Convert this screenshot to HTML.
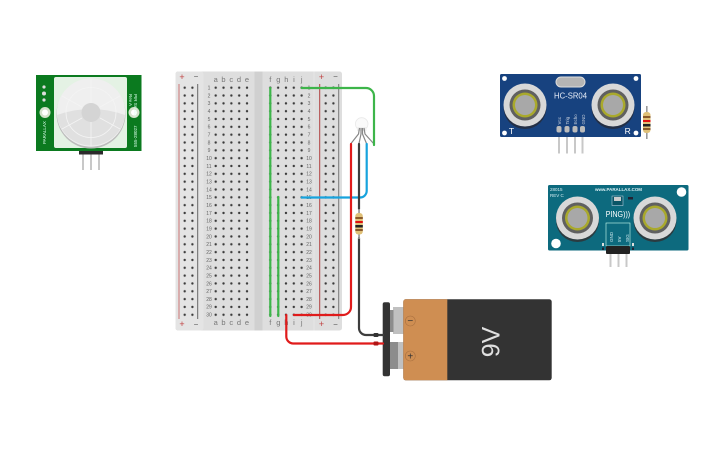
<!DOCTYPE html>
<html><head><meta charset="utf-8"><style>
html,body{margin:0;padding:0;background:#fff}
svg{display:block}
text{font-family:"Liberation Sans",sans-serif}
.n{font-size:5px;fill:#666;text-anchor:middle}
.l{font-size:7.5px;fill:#777;text-anchor:middle}
.w{fill:none;stroke-width:2.2;stroke-linecap:round;stroke-linejoin:round}
</style></head><body>
<svg width="725" height="453" viewBox="0 0 725 453" xmlns="http://www.w3.org/2000/svg">
<defs>
<pattern id="h1" x="180.8" y="83.8" width="7.7" height="7.83" patternUnits="userSpaceOnUse"><circle cx="3.9" cy="3.9" r="1.2" fill="#3a3a3a"/></pattern>
<pattern id="h2" x="211.8" y="83.8" width="7.83" height="7.83" patternUnits="userSpaceOnUse"><circle cx="3.9" cy="3.9" r="1.2" fill="#3a3a3a"/></pattern>
<pattern id="h3" x="266.4" y="83.8" width="7.83" height="7.83" patternUnits="userSpaceOnUse"><circle cx="3.9" cy="3.9" r="1.2" fill="#3a3a3a"/></pattern>
<pattern id="h4" x="321.8" y="83.8" width="7.7" height="7.83" patternUnits="userSpaceOnUse"><circle cx="3.9" cy="3.9" r="1.2" fill="#3a3a3a"/></pattern>
</defs>
<!-- Breadboard -->
<rect x="175.5" y="71.5" width="166.5" height="259" rx="2.5" fill="#dedede"/>
<rect x="175.5" y="71.5" width="28" height="259" rx="2.5" fill="#e4e4e4"/>
<rect x="254.5" y="71.5" width="8" height="259" fill="#d0d0d0"/>
<rect x="313.5" y="71.5" width="1" height="259" fill="#e6e6e6"/>
<line x1="179" y1="84" x2="179" y2="319" stroke="#d28f8f" stroke-width="1.3"/>
<line x1="197.7" y1="84" x2="197.7" y2="319" stroke="#666" stroke-width="1"/>
<line x1="319.7" y1="84" x2="319.7" y2="319" stroke="#b04040" stroke-width="1"/>
<line x1="338.7" y1="84" x2="338.7" y2="319" stroke="#777" stroke-width="1"/>
<rect x="180.8" y="83.8" width="15.4" height="235" fill="url(#h1)"/>
<rect x="211.8" y="83.8" width="39.2" height="235" fill="url(#h2)"/>
<rect x="266.4" y="83.8" width="39.2" height="235" fill="url(#h3)"/>
<rect x="321.8" y="83.8" width="15.4" height="235" fill="url(#h4)"/>
<text x="182" y="80" fill="#c04040" text-anchor="middle" style="font-size:9px">+</text><text x="196" y="79" fill="#555" text-anchor="middle" style="font-size:8px">−</text>
<text x="321.5" y="80" fill="#c04040" text-anchor="middle" style="font-size:9px">+</text><text x="335.5" y="79" fill="#555" text-anchor="middle" style="font-size:8px">−</text>
<text x="182" y="327" fill="#c04040" text-anchor="middle" style="font-size:9px">+</text><text x="196" y="327" fill="#555" text-anchor="middle" style="font-size:8px">−</text>
<text x="321.5" y="327" fill="#c04040" text-anchor="middle" style="font-size:9px">+</text><text x="335.5" y="327" fill="#555" text-anchor="middle" style="font-size:8px">−</text>
<g><text class="l" x="215.7" y="82">a</text><text class="l" x="223.5" y="82">b</text><text class="l" x="231.3" y="82">c</text><text class="l" x="239" y="82">d</text><text class="l" x="247" y="82">e</text>
<text class="l" x="270.3" y="82">f</text><text class="l" x="278.3" y="82">g</text><text class="l" x="286.3" y="82">h</text><text class="l" x="294" y="82">i</text><text class="l" x="301.7" y="82">j</text>
<text class="l" x="215.7" y="325">a</text><text class="l" x="223.5" y="325">b</text><text class="l" x="231.3" y="325">c</text><text class="l" x="239" y="325">d</text><text class="l" x="247" y="325">e</text>
<text class="l" x="270.3" y="325">f</text><text class="l" x="278.3" y="325">g</text><text class="l" x="286.3" y="325">h</text><text class="l" x="294" y="325">i</text><text class="l" x="301.7" y="325">j</text></g>
<g>
<text class="n" x="209" y="89.5">1</text><text class="n" x="209" y="97.3">2</text><text class="n" x="209" y="105.2">3</text><text class="n" x="209" y="113">4</text><text class="n" x="209" y="120.8">5</text><text class="n" x="209" y="128.7">6</text><text class="n" x="209" y="136.5">7</text><text class="n" x="209" y="144.3">8</text><text class="n" x="209" y="152.1">9</text><text class="n" x="209" y="160">10</text><text class="n" x="209" y="167.8">11</text><text class="n" x="209" y="175.6">12</text><text class="n" x="209" y="183.5">13</text><text class="n" x="209" y="191.3">14</text><text class="n" x="209" y="199.1">15</text><text class="n" x="209" y="207">16</text><text class="n" x="209" y="214.8">17</text><text class="n" x="209" y="222.6">18</text><text class="n" x="209" y="230.4">19</text><text class="n" x="209" y="238.3">20</text><text class="n" x="209" y="246.1">21</text><text class="n" x="209" y="253.9">22</text><text class="n" x="209" y="261.8">23</text><text class="n" x="209" y="269.6">24</text><text class="n" x="209" y="277.4">25</text><text class="n" x="209" y="285.3">26</text><text class="n" x="209" y="293.1">27</text><text class="n" x="209" y="300.9">28</text><text class="n" x="209" y="308.7">29</text><text class="n" x="209" y="316.6">30</text>
<text class="n" x="309" y="89.5">1</text><text class="n" x="309" y="97.3">2</text><text class="n" x="309" y="105.2">3</text><text class="n" x="309" y="113">4</text><text class="n" x="309" y="120.8">5</text><text class="n" x="309" y="128.7">6</text><text class="n" x="309" y="136.5">7</text><text class="n" x="309" y="144.3">8</text><text class="n" x="309" y="152.1">9</text><text class="n" x="309" y="160">10</text><text class="n" x="309" y="167.8">11</text><text class="n" x="309" y="175.6">12</text><text class="n" x="309" y="183.5">13</text><text class="n" x="309" y="191.3">14</text><text class="n" x="309" y="199.1">15</text><text class="n" x="309" y="207">16</text><text class="n" x="309" y="214.8">17</text><text class="n" x="309" y="222.6">18</text><text class="n" x="309" y="230.4">19</text><text class="n" x="309" y="238.3">20</text><text class="n" x="309" y="246.1">21</text><text class="n" x="309" y="253.9">22</text><text class="n" x="309" y="261.8">23</text><text class="n" x="309" y="269.6">24</text><text class="n" x="309" y="277.4">25</text><text class="n" x="309" y="285.3">26</text><text class="n" x="309" y="293.1">27</text><text class="n" x="309" y="300.9">28</text><text class="n" x="309" y="308.7">29</text><text class="n" x="309" y="316.6">30</text>
</g>

<!-- PIR -->
<rect x="36" y="75" width="105.5" height="76" fill="#0b7a1f"/>
<rect x="54" y="77" width="73" height="71" rx="2" fill="#e4f2e4"/>
<circle cx="45" cy="112.5" r="5.5" fill="#d5e2cc"/><circle cx="45" cy="112.5" r="3" fill="#fff"/>
<circle cx="134" cy="112.5" r="5.5" fill="#d5e2cc"/><circle cx="134" cy="112.5" r="3" fill="#fff"/>
<circle cx="44" cy="87" r="1.6" fill="#ddd"/><circle cx="44" cy="93.5" r="2" fill="#ddd"/><circle cx="44" cy="100" r="1.6" fill="#ddd"/>
<text transform="translate(46,144) rotate(-90)" fill="#dfe" style="font-size:4.5px">PARALLAX</text>
<text transform="translate(137,147) rotate(-90)" fill="#dfe" style="font-size:4.5px">555-28027</text>
<text transform="translate(134,94) rotate(90)" fill="#dfe" style="font-size:4.5px">PIR Sensor</text>
<text transform="translate(129,94) rotate(90)" fill="#dfe" style="font-size:4.5px">Rev A</text>
<circle cx="91" cy="114" r="34.5" fill="#bdbdbd"/>
<circle cx="91" cy="112.5" r="34.2" fill="#efefef"/>
<path d="M57 115A34.2 34.2 0 0 0 125 115Q91 103 57 115Z" fill="#e0e0e0"/>
<circle cx="91" cy="112.5" r="25" fill="none" stroke="#f4f4f4" stroke-width=".8"/>
<g stroke="#f4f4f4" stroke-width=".8"><line x1="91" y1="79" x2="91" y2="103"/><line x1="91" y1="122" x2="91" y2="146"/><line x1="62" y1="96" x2="82" y2="107"/><line x1="120" y1="96" x2="100" y2="107"/><line x1="62" y1="129" x2="82" y2="118"/><line x1="120" y1="129" x2="100" y2="118"/></g>
<circle cx="91" cy="112.5" r="9.5" fill="#d4d4d4"/>
<rect x="79" y="151" width="24" height="3.5" fill="#2b2b2b"/>
<g fill="#c8c8c8"><rect x="82" y="154.5" width="2" height="15.5"/><rect x="90" y="154.5" width="2" height="15.5"/><rect x="98" y="154.5" width="2" height="15.5"/></g>

<!-- HC-SR04 -->
<rect x="500" y="74" width="141" height="63" rx="1.5" fill="#17427f"/>
<circle cx="504.5" cy="78.5" r="2.4" fill="#fff"/><circle cx="636" cy="78.5" r="2.4" fill="#fff"/><circle cx="504.5" cy="133" r="2.4" fill="#fff"/><circle cx="636" cy="133" r="2.4" fill="#fff"/>
<rect x="556" y="77" width="29" height="10" rx="5" fill="#b5b5b5" stroke="#ddd" stroke-width="1"/>
<text x="554" y="98.500" fill="#e8eef8" textLength="33" lengthAdjust="spacingAndGlyphs" style="font-size:8.500px">HC-SR04</text>
<circle cx="525" cy="107.500" r="21.500" fill="#232f46"/><circle cx="525" cy="105" r="21.500" fill="#d8d8d8"/><circle cx="525" cy="105" r="15.500" fill="#606060"/><circle cx="525" cy="105" r="12.500" fill="#a9a92c"/><circle cx="525" cy="105" r="10" fill="#a8a8a8"/>
<circle cx="613" cy="107.500" r="21.500" fill="#232f46"/><circle cx="613" cy="105" r="21.500" fill="#d8d8d8"/><circle cx="613" cy="105" r="15.500" fill="#606060"/><circle cx="613" cy="105" r="12.500" fill="#a9a92c"/><circle cx="613" cy="105" r="10" fill="#a8a8a8"/>
<text x="511.500" y="134" fill="#fff" text-anchor="middle" style="font-size:8.500px">T</text><text x="627.700" y="134" fill="#fff" text-anchor="middle" style="font-size:8.500px">R</text>
<g fill="#c8d0dc" style="font-size:4.500px"><text transform="translate(561,124.500) rotate(-90)">Vcc</text><text transform="translate(569,124.500) rotate(-90)">Trig</text><text transform="translate(577,124.500) rotate(-90)">Echo</text><text transform="translate(585,124.500) rotate(-90)">GND</text></g>
<g fill="#bbb"><rect x="556.500" y="126" width="5" height="6.500" rx="2"/><rect x="564.500" y="126" width="5" height="6.500" rx="2"/><rect x="572.500" y="126" width="5" height="6.500" rx="2"/><rect x="580" y="126" width="5" height="6.500" rx="2"/></g>
<g fill="#c8c8c8"><rect x="558" y="137" width="2" height="16.500"/><rect x="566" y="137" width="2" height="16.500"/><rect x="574" y="137" width="2" height="16.500"/><rect x="581.500" y="137" width="2" height="16.500"/></g>

<!-- Resistor 1 -->
<rect x="646" y="106" width="1.600" height="33" fill="#999"/>
<rect x="643" y="112" width="7.500" height="21" rx="3" fill="#dfc078"/>
<rect x="643" y="116" width="7.500" height="2" fill="#8a5a2a"/><rect x="643" y="120" width="7.500" height="2" fill="#e01010"/><rect x="643" y="124" width="7.500" height="2.500" fill="#222"/><rect x="643" y="128" width="7.500" height="2" fill="#8a5a2a"/>

<!-- PING -->
<rect x="548" y="185" width="140.500" height="65.500" rx="1.500" fill="#0d6a7e"/>
<circle cx="681.500" cy="192" r="4.800" fill="#fff"/><circle cx="556" cy="243.500" r="4.800" fill="#fff"/>
<circle cx="577.500" cy="220.500" r="21.500" fill="#2b3b40"/><circle cx="577.500" cy="218" r="21.500" fill="#d8d8d8"/><circle cx="577.500" cy="218" r="15.500" fill="#606060"/><circle cx="577.500" cy="218" r="12.500" fill="#a9a92c"/><circle cx="577.500" cy="218" r="10" fill="#a8a8a8"/>
<circle cx="655" cy="220.500" r="21.500" fill="#2b3b40"/><circle cx="655" cy="218" r="21.500" fill="#d8d8d8"/><circle cx="655" cy="218" r="15.500" fill="#606060"/><circle cx="655" cy="218" r="12.500" fill="#a9a92c"/><circle cx="655" cy="218" r="10" fill="#a8a8a8"/>
<text x="595" y="191" fill="#d8eef2" textLength="47" lengthAdjust="spacingAndGlyphs" style="font-size:4.800px;font-weight:bold">www.PARALLAX.COM</text>
<text x="550" y="191" fill="#d8eef2" style="font-size:4.500px">28015</text><text x="550" y="197" fill="#d8eef2" style="font-size:4.500px">REV C</text>
<rect x="612" y="196" width="11" height="9.500" fill="#0a5566" stroke="#cde" stroke-width=".5"/><rect x="614" y="197" width="7" height="4" fill="#ccc"/>
<rect x="628" y="197" width="5" height="2.500" fill="#223"/>
<rect x="602" y="243" width="2" height="3" fill="#ddd"/><rect x="602" y="247.500" width="2" height="2.500" fill="#223"/>
<rect x="632" y="243" width="2" height="3" fill="#ddd"/><rect x="632" y="247.500" width="2" height="2.500" fill="#223"/>
<text x="605.700" y="217" fill="#fff" textLength="24.500" lengthAdjust="spacingAndGlyphs" style="font-size:8px">PING)))</text>
<rect x="606" y="223" width="24" height="23" fill="none" stroke="#cfe" stroke-width=".6"/>
<g fill="#d8eef2" style="font-size:4.500px"><text transform="translate(613,242) rotate(-90)">GND</text><text transform="translate(621,242) rotate(-90)">5V</text><text transform="translate(629,242) rotate(-90)">SIG</text></g>
<rect x="606" y="246" width="24" height="8" rx="1" fill="#222"/>
<g fill="#c8c8c8"><rect x="609.500" y="254" width="2" height="13"/><rect x="617.500" y="254" width="2" height="13"/><rect x="625.500" y="254" width="2" height="13"/></g>

<!-- Battery -->
<rect x="390" y="342" width="13.500" height="27" fill="#c0c0c0"/><rect x="390" y="342" width="8" height="27" fill="#8c8c8c"/>
<rect x="393" y="307" width="11" height="27" fill="#c0c0c0"/><rect x="390" y="310" width="3.500" height="22" fill="#8c8c8c"/>
<rect x="382.700" y="302.300" width="7.300" height="74" rx="2" fill="#333"/>
<rect x="403.300" y="299.300" width="148.400" height="81" rx="2.500" fill="#333"/>
<path d="M447.300 299.300H405.800a2.500 2.500 0 0 0-2.500 2.500v76a2.500 2.500 0 0 0 2.500 2.500h41.500z" fill="#cf8e52"/>
<circle cx="410.300" cy="321" r="5" fill="none" stroke="#a87040" stroke-width=".6"/><circle cx="410.300" cy="356" r="5" fill="none" stroke="#a87040" stroke-width=".6"/>
<text x="410.300" y="324" fill="#333" text-anchor="middle" style="font-size:10px">−</text><text x="410.300" y="359.500" fill="#333" text-anchor="middle" style="font-size:10px">+</text>
<text transform="translate(499.500,342) rotate(-90)" fill="#e0e0e0" text-anchor="middle" style="font-size:25px">9V</text>

<!-- LED -->
<circle cx="361.700" cy="124" r="6.300" fill="#fafafa" stroke="#e8e8e8" stroke-width=".8"/>
<rect x="357" y="127" width="9.500" height="4" fill="#f0f0f0"/>
<g fill="none" stroke="#888" stroke-width="1.200"><path d="M359.500 128L358.500 134L351 143.500"/><path d="M361 128V134L359 143.500"/><path d="M362.500 128V134L366.500 143.500"/><path d="M364 128L365 134L374 144"/></g>

<!-- Wires -->
<path class="w" stroke="#3db54a" d="M301.700 88H366a8 8 0 0 1 8 8V145"/>
<path class="w" stroke="#3db54a" d="M270.300 88V316"/>
<path class="w" stroke="#3db54a" d="M278.300 197V316"/>
<path class="w" stroke="#17a3dd" d="M301.700 197.500H360a6.700 6.700 0 0 0 6.700-6.700V144"/>
<path class="w" stroke="#e01b1b" d="M351 144V307a8 8 0 0 1-8 8H294"/>
<path class="w" stroke="#3d3d3d" d="M359 144V209"/>
<path class="w" stroke="#3d3d3d" d="M359 238V328a7 7 0 0 0 7 7H383"/>
<path class="w" stroke="#e01b1b" d="M286.300 315V336.500a7 7 0 0 0 7 7H383"/>
<rect x="373.500" y="333" width="5" height="4" rx="1" fill="#333"/><rect x="373.500" y="341.500" width="5" height="4" rx="1" fill="#b01515"/>

<!-- Resistor 2 -->
<rect x="358.200" y="209" width="1.700" height="30" fill="#999"/>
<rect x="355.300" y="213" width="7.500" height="21.500" rx="3" fill="#dfc078"/>
<rect x="355.300" y="217" width="7.500" height="2" fill="#8a5a2a"/><rect x="355.300" y="221" width="7.500" height="2" fill="#e01010"/><rect x="355.300" y="225" width="7.500" height="2.500" fill="#222"/><rect x="355.300" y="229" width="7.500" height="2" fill="#8a5a2a"/>
</svg>
</body></html>
